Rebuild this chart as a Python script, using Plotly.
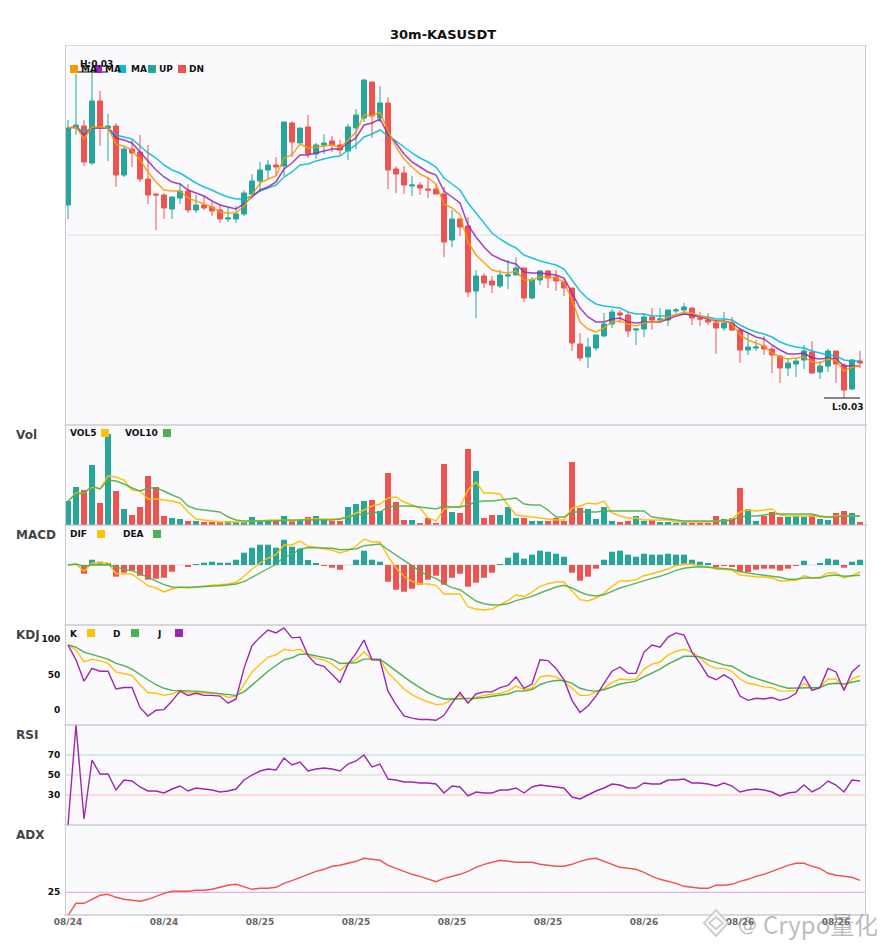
import plotly.graph_objects as go
from plotly.subplots import make_subplots
import numpy as np

# All prices are stored as offsets above 0.03 in units of 0.00001 USDT
PRICE_BASE = 0.03
PRICE_UNIT = 0.00001

open_ = [295,372,374,337,399,372,374,325,351,348, 321,306,305,291,302,309,290,295,293,290,
         281,281,286,306,319,330,335,334,377,357, 373,346,355,359,355,349,372,382,418,382,
         397,331,327,314,315,311,311,306,260,281, 274,209,224,219,214,224,225,232,202,220,
         229,223,218,212,156,143,152,164,176,187, 185,170,171,183,180,180,189,190,192,182,
         180,177,172,177,170,150,152,154,151,144, 132,136,140,148,128,134,149,135,111,139]
high = [380,426,380,429,409,386,377,354,360,365, 355,306,307,303,317,316,305,304,298,296,
        293,294,310,326,338,340,343,378,379,372, 385,357,366,364,360,376,391,421,418,414,
        403,334,334,324,318,323,316,313,290,281, 283,230,227,224,230,240,243,232,223,230,
        230,230,222,212,167,162,165,187,191,190, 188,171,187,192,192,190,192,197,192,188,
        187,180,188,183,172,167,160,164,154,145, 142,142,155,159,139,151,149,137,141,149]
low = [281,365,334,335,354,339,313,323,333,318, 296,270,281,281,296,287,287,290,284,277,
       278,277,284,304,308,321,324,324,343,357, 342,341,346,348,345,340,351,378,362,378,
       311,307,306,304,305,302,306,243,253,264, 203,182,212,207,212,211,225,198,201,215,
       212,209,204,149,139,132,149,163,172,177, 163,155,163,170,177,174,186,188,175,174,
       175,146,169,169,137,145,149,145,127,117, 124,123,131,126,121,128,117,102,110,132]
close = [372,375,338,399,373,374,325,351,347,321, 305,305,292,303,309,290,295,292,289,281,
         282,286,307,319,330,335,333,378,358,372, 346,355,357,355,350,373,385,420,384,397,
         330,326,315,315,312,310,306,258,281,273, 208,224,217,215,225,225,232,202,220,229,
         222,219,212,157,142,153,165,176,188,185, 169,171,183,180,181,190,190,193,182,181,
         178,172,177,170,150,153,153,151,145,132, 137,139,149,127,134,149,136,110,140,137]

ma_fast = [372,373,361,373,373,372,356,354,350,340, 328,318,310,309,309,302,299,296,293,288,
           287,287,294,305,317,321,324,342,345,356, 352,353,354,355,352,360,368,385,384,388,
           369,353,341,333,326,322,316,296,292,285, 258,245,237,230,228,227,229,220,220,223,
           223,222,218,200,178,171,168,172,178,179, 176,174,177,178,179,183,185,188,187,184,
           182,178,179,176,165,160,157,154,147,143, 141,142,143,138,137,141,140,129,133,134]
ma_mid = [372,373,365,372,372,372,362,360,357,348, 338,330,323,318,316,310,307,304,299,295,
          293,291,296,303,310,313,318,331,337,345, 345,347,349,351,351,357,362,375,377,381,
          366,357,346,338,333,328,325,309,303,297, 275,263,253,245,241,238,236,228,227,227,
          226,225,222,207,192,183,178,178,181,182, 178,177,178,178,178,181,184,186,185,183,
          181,179,179,177,171,167,163,161,155,150, 146,146,147,142,141,142,141,134,134,134]
ma_slow = [372,373,368,372,372,372,365,363,361,354, 347,342,335,330,327,322,317,313,310,306,
           303,301,301,304,309,312,315,323,328,335, 336,339,341,343,344,350,355,363,366,370,
           364,359,353,347,342,338,333,322,316,310, 297,287,277,267,261,256,252,245,242,239,
           237,235,231,220,209,201,196,194,193,192, 188,186,186,184,184,184,185,186,185,184,
           183,181,181,180,175,171,168,166,163,158, 155,153,152,149,147,145,144,140,139,139]

vol = [24,38,35,60,22,91,34,16,10,18, 49,38,9,7,6,4,4,3,3,3, 4,3,3,8,4,4,4,9,4,5,
       8,9,6,4,4,18,21,24,25,14, 52,23,5,5,2,7,2,61,13,12, 76,54,7,10,10,18,7,7,4,4,
       4,7,4,63,17,16,6,18,4,3, 4,9,4,5,3,3,2,3,2,2, 2,9,6,7,37,16,4,9,13,8,
       8,9,8,10,6,5,12,14,12,3]
vol5 = [24,32,32,38,36,49,48,45,35,34, 26,26,25,24,22,13,6,5,4,3, 3,3,3,4,4,5,5,5,4,5,
        6,6,6,6,6,8,12,15,19,21, 27,28,23,20,17,7,4,16,18,18, 35,43,32,32,31,20,10,9,8,7,
        6,5,5,17,19,22,21,24,12,9, 7,7,5,5,5,5,3,3,3,3, 3,4,4,6,13,15,14,15,16,10,
        9,9,9,9,8,8,9,9,9,9]
vol10 = [24,31,32,39,36,45,44,41,37,34, 37,37,34,30,27,19,16,15,14,13, 8,5,4,4,4,4,4,5,5,5,
         5,5,5,5,6,8,10,11,12,13, 18,19,19,19,18,17,16,19,18,18, 20,23,24,24,25,26,27,21,20,20,
         15,8,8,13,13,13,13,14,14,14, 14,14,14,8,7,6,5,4,4,4, 4,4,4,5,8,9,9,10,11,11,
         11,11,11,11,9,8,8,9,9,9]

macd_hist = [0,0,-8.7,5.3,3.3,2,-11.7,-7.7,-5.7,-10.7, -14.7,-13.7,-12.7,-6.7,0,-1.7,1,2.3,3.3,2.3,
             2.3,5.3,12.3,17.3,20.3,20.3,17.3,25.3,18.3,16.3, 5,1.3,-0.7,-2.7,-4.7,0,5.3,14.3,5.3,3.3,
             -16.7,-24.7,-26.7,-23.7,-19.7,-14.7,-10.7,-19.7,-12.7,-8.7, -21.7,-17.7,-12.7,-7.7,1,7.3,12.3,6.3,10.3,14.3,
             13.3,11.3,8.3,-7.7,-15.7,-11.7,-3.7,5.3,13.3,14.3, 10.3,8.3,11.3,10.3,10.3,11.3,10.3,10.3,5.3,3.3,
             1.3,-1.7,-0.7,-1.7,-6.7,-7,-4.7,-3.7,-3.7,-5.7, -3.7,-0.7,4.3,0,1.3,6.3,5.3,-2.7,3.3,5.3]
dif = [0,1,-6.3,2,2,2,-8.7,-9,-9,-14.7, -20.7,-23,-27,-24,-22.3,-23,-22,-20.7,-20.3,-19.7,
       -19,-17.3,-11.3,-4,2,7,10.3,20,20,24, 18.7,17.7,16,14.7,12,14.3,18.7,26,23,23,
       8.7,-3,-11.3,-16.3,-18.7,-19,-20.3,-29,-29,-29, -42,-44,-45,-44,-40,-35.7,-29.7,-31.7,-27,-21.3,
       -18.7,-17,-17,-26.3,-34.7,-36,-33,-28,-21.3,-16, -16,-14.7,-10.7,-8.7,-6.7,-4,-0.7,1,0.7,-1,
       -1.7,-4.3,-4.3,-5.3,-10,-11,-11.7,-12,-13,-16, -16,-15.3,-10.7,-12.7,-12.3,-8,-8,-13,-10.7,-7]
dea = [0,1,-1.3,0,0.3,0,-2.3,-3.7,-5.7,-8.7, -12.3,-15.7,-19.7,-22,-22.3,-22.3,-22,-21.7,-21,-20.7,
       -20,-19,-16.7,-12.3,-7.3,-3.3,0.7,8,10.3,16, 17.3,17.3,17.3,16.7,15.3,15.3,16,19.3,20,21,
       15.3,10.3,4.7,-0.7,-6.3,-10.7,-13.3,-18.7,-22.7,-24.7, -30.7,-36,-38.7,-40,-39.7,-38.7,-35.7,-33.7,-31.3,-28,
       -24.7,-22,-20.3,-23,-27,-30,-31,-29.7,-26.3,-23, -20.7,-18,-15.3,-13.3,-11.3,-8.7,-5.3,-3.3,-2.3,-1.7,
       -2.3,-3,-3.7,-4.3,-6.7,-8.3,-9.3,-10.3,-11,-12.3, -14.3,-14.3,-13,-13,-13,-10.7,-10,-11.3,-11,-10.3]

k_line = [92,85,68,72,70,66,54,52,49,36, 25,24,21,23,28,25,25,24,24,23, 18,20,36,54,64,75,78,86,84,86,
          78,73,71,65,56,66,71,82,71,71, 53,41,30,22,16,12,8,9,15,21, 12,18,21,22,24,27,34,29,31,47,
          49,47,40,31,21,21,26,31,39,44, 43,44,58,65,68,78,83,86,82,74, 64,59,59,55,44,38,36,33,32,27,
          27,28,38,31,32,44,44,31,44,49]
d_line = [92,89,82,79,75,72,66,63,58,50, 43,36,31,28,28,27,27,26,25,24, 23,21,26,35,45,55,63,71,74,79,
          79,77,75,72,66,66,67,72,72,72, 64,55,47,39,32,25,20,16,16,16, 16,17,18,20,21,23,27,27,29,36,
          40,42,42,38,31,28,27,29,33,37, 39,41,47,52,58,65,71,76,76,75, 71,67,64,62,55,49,45,41,38,34,
          31,31,32,32,32,37,38,37,39,42]
j_line = [92,71,41,59,55,55,30,32,32,4, -8,0,1,13,27,21,24,21,21,20, 10,16,59,91,103,113,109,116,102,103,
          77,65,62,51,39,65,80,99,71,71, 27,8,-8,-11,-13,-13,-14,-7,10,25, 10,23,26,26,32,35,47,31,37,71,
          70,59,43,14,-3,6,20,38,55,61, 52,52,82,92,89,103,109,106,82,66, 48,43,50,43,20,14,17,16,18,14,
          17,24,48,28,32,59,54,28,54,64]
rsi = [0,100,6,65,51,51,35,45,44,38, 34,34,32,36,39,34,37,36,35,33, 34,36,45,50,54,56,55,67,60,63,
       54,56,57,56,54,61,64,70,58,61, 46,45,43,43,42,42,41,32,39,38, 29,33,32,32,35,35,37,32,38,40,
       39,38,37,28,26,30,34,37,41,40, 37,37,42,41,41,45,45,46,42,42, 41,39,42,39,33,35,36,35,33,29,
       32,33,40,33,37,44,40,33,45,44]
adx = [13.5,19.5,19.5,21.5,23.5,24,22.5,21.5,21,20.5, 21.5,23,24.5,25.5,25.5,25.5,26,26,26.5,27.5,
       28.5,29,27.7,26.5,27,27,27.5,29.5,30.8,32.5, 34.2,35.5,36.5,38,38.5,39.5,40.5,42,41.5,41,
       38.5,37,35.5,34,33,31.7,30.3,32,33,34, 35.5,37.5,39,40,41,40.5,40,40,40,39,
       38.5,38,38,39,40.5,41.5,42,40.5,39,37.5, 37,36.5,35,33,31.5,30.5,29.5,28,27.5,27,
       27,28.5,28.5,29,30.5,31.5,33,34,35.5,37, 38.5,39.5,39.5,38,37,34.5,33.5,33,32.5,31]

tick_positions = [0, 12, 24, 36, 48, 60, 72, 84, 96]
tick_labels = ["08/24", "08/24", "08/25", "08/25", "08/25", "08/25", "08/26", "08/26", "08/26"]

UP = "#26a69a"
DN = "#ef5350"
ORANGE = "#ff9800"
PURPLE = "#9c27b0"
CYAN = "#00bcd4"
YELLOW = "#ffc107"
GREEN = "#4caf50"
BG = "#fafafd"
FONT = "DejaVu Sans"

# The browser keeps an 8px page margin around the figure
OX, OY = 8, 8
W, H = 869, 934
PL, PR, PT, PB = 65.0, 865.0, 45.0, 915.0


def price(a):
    return PRICE_BASE + np.array(a, dtype=float) * PRICE_UNIT


def X(px):
    return (px - PL) / (PR - PL)


def Y(py):
    return (PB - py) / (PB - PT)


x = np.arange(len(close))

fig = make_subplots(rows=6, cols=1, shared_xaxes=True, vertical_spacing=0,
                    row_heights=[380, 100, 100, 100, 100, 90])

fig.add_trace(go.Candlestick(x=x, open=price(open_), high=price(high), low=price(low), close=price(close),
                             increasing=dict(line=dict(color=UP, width=1), fillcolor=UP),
                             decreasing=dict(line=dict(color=DN, width=1), fillcolor=DN),
                             whiskerwidth=0, showlegend=False, hoverinfo="skip"), row=1, col=1)
for series, colr in ((ma_slow, CYAN), (ma_mid, PURPLE), (ma_fast, ORANGE)):
    fig.add_trace(go.Scatter(x=x, y=price(series), mode="lines", line=dict(color=colr, width=1.5),
                             opacity=0.88, showlegend=False, hoverinfo="skip"), row=1, col=1)

vol_colors = [UP if c >= o else DN for o, c in zip(open_, close)]
fig.add_trace(go.Bar(x=x, y=vol, marker=dict(color=vol_colors, line_width=0), showlegend=False,
                     hoverinfo="skip"), row=2, col=1)
fig.add_trace(go.Scatter(x=x, y=vol5, mode="lines", line=dict(color=YELLOW, width=1.4), showlegend=False,
                         hoverinfo="skip"), row=2, col=1)
fig.add_trace(go.Scatter(x=x, y=vol10, mode="lines", line=dict(color=GREEN, width=1.4), opacity=0.9,
                         showlegend=False, hoverinfo="skip"), row=2, col=1)

hist_colors = [UP if h >= 0 else DN for h in macd_hist]
fig.add_trace(go.Bar(x=x, y=macd_hist, marker=dict(color=hist_colors, line_width=0), showlegend=False,
                     hoverinfo="skip"), row=3, col=1)
fig.add_trace(go.Scatter(x=x, y=dif, mode="lines", line=dict(color=YELLOW, width=1.4), showlegend=False,
                         hoverinfo="skip"), row=3, col=1)
fig.add_trace(go.Scatter(x=x, y=dea, mode="lines", line=dict(color=GREEN, width=1.4), opacity=0.9,
                         showlegend=False, hoverinfo="skip"), row=3, col=1)

for series, colr in ((k_line, YELLOW), (d_line, GREEN), (j_line, PURPLE)):
    fig.add_trace(go.Scatter(x=x, y=series, mode="lines", line=dict(color=colr, width=1.4),
                             showlegend=False, hoverinfo="skip"), row=4, col=1)
fig.add_trace(go.Scatter(x=x, y=rsi, mode="lines", line=dict(color=PURPLE, width=1.4),
                         showlegend=False, hoverinfo="skip"), row=5, col=1)
fig.add_trace(go.Scatter(x=x, y=adx, mode="lines", line=dict(color=DN, width=1.4),
                         showlegend=False, hoverinfo="skip"), row=6, col=1)

xrange_ = [-0.375, 99.625]
for r in range(1, 7):
    fig.update_xaxes(row=r, col=1, range=xrange_, showgrid=False, zeroline=False, showline=False,
                     rangeslider_visible=False, ticks="", showticklabels=False)
fig.update_xaxes(row=6, col=1, showticklabels=True, tickmode="array", tickvals=tick_positions,
                 ticktext=tick_labels, ticks="",
                 tickfont=dict(family=FONT, size=9, color="#666666", weight="bold"))

axis_cfg = [
    (1, [PRICE_BASE + 75 * PRICE_UNIT, PRICE_BASE + 455 * PRICE_UNIT], [], []),
    (2, [0, 100], [], []),
    (3, [-60, 40], [], []),
    (4, [-20.7, 120.1], [0, 50, 100], ["0", "50", "100"]),
    (5, [0, 100], [30, 50, 70], ["30", "50", "70"]),
    (6, [13.65, 58.65], [25], ["25"]),
]
for r, rng, tv, tt in axis_cfg:
    fig.update_yaxes(row=r, col=1, range=rng, showgrid=False, zeroline=False, showline=False,
                     tickmode="array", tickvals=tv, ticktext=tt, ticks="outside", ticklen=2,
                     tickcolor="rgba(0,0,0,0)",
                     tickfont=dict(family=FONT, size=9, color="#111111", weight="bold"))

# Reference lines
TEAL_REF = "#a8dcd8"
GREY_REF = "#d4d4d8"
RED_REF = "#ffb8b4"
PURPLE_REF = "#e0b4ea"
ref_lines = [(1, PRICE_BASE + 265 * PRICE_UNIT, "#e0e0e2"), (3, 0, "#dddddf"),
             (4, 100, TEAL_REF), (4, 50, GREY_REF), (4, 0, RED_REF),
             (5, 70, TEAL_REF), (5, 50, GREY_REF), (5, 30, RED_REF),
             (6, 25, PURPLE_REF)]
for r, val, colr in ref_lines:
    fig.add_hline(y=val, row=r, col=1, line=dict(color=colr, width=1.2), layer="below")


def px_line(x0, y0, x1, y1, colr, w=1.0, layer="above"):
    fig.add_shape(type="line", xref="paper", yref="paper", x0=X(x0), x1=X(x1), y0=Y(y0), y1=Y(y1),
                  line=dict(color=colr, width=w), layer=layer)


def px_rect(x0, y0, x1, y1, colr):
    fig.add_shape(type="rect", xref="paper", yref="paper", x0=X(x0), x1=X(x1), y0=Y(y0), y1=Y(y1),
                  line_width=0, fillcolor=colr, layer="above")


def label(px, py, text, size=9, colr="#111111", anchor="left", bold=True, family=FONT):
    fig.add_annotation(xref="paper", yref="paper", x=X(px), y=Y(py), text=f"<b>{text}</b>" if bold else text,
                       showarrow=False, xanchor=anchor, yanchor="middle", align=anchor,
                       font=dict(family=family, size=size, color=colr), borderpad=0, borderwidth=0)


# Panel frames
FL, FR = PL + 0.5, PR + 0.5
px_line(FL, PT + 0.5, FR, PT + 0.5, "#d8d8de", 1)
for yy in (425, 525, 625, 725, 825, 915):
    px_line(FL - 1, yy, FR + 1.5, yy, "#b4b4ba", 1.2)
px_line(FL, PT, FL, PB, "#cbcbd3", 1)
px_line(FR, PT, FR, PB, "#cbcbd3", 1)

# Panel titles
fig.add_annotation(xref="paper", yref="paper", x=X(443), y=Y(34.5), text="<b>30m-KASUSDT</b>", showarrow=False,
                   xanchor="center", yanchor="middle", font=dict(family=FONT, size=13, color="#111111"))
for yy, t in ((435, "Vol"), (535, "MACD"), (635, "KDJ"), (735, "RSI"), (835, "ADX")):
    label(16, yy, t, size=12, colr="#444444")

# Extreme labels
label(96, 64.5, "H:0.03", anchor="center")
px_line(78, 72, 108, 72, "#111111", 1)
label(847.5, 407, "L:0.03", anchor="center")
px_line(824, 398, 860, 398, "#111111", 1)

# Custom legends
for x0, colr in ((70, ORANGE), (94, PURPLE), (118, CYAN), (148, UP), (178, DN)):
    px_rect(x0, 65, x0 + 8, 73, colr)
for x0, t in ((81, "MA"), (105, "MA"), (131, "MA"), (159, "UP"), (189, "DN")):
    label(x0, 69, t)
for txt_x, t, sq_x in ((70, "VOL5", 101), (125, "VOL10", 163)):
    label(txt_x, 433.5, t)
    px_rect(sq_x, 429, sq_x + 8, 437, YELLOW if t == "VOL5" else GREEN)
for txt_x, t, sq_x, colr in ((70, "DIF", 97, YELLOW), (123, "DEA", 153, GREEN)):
    label(txt_x, 533.5, t)
    px_rect(sq_x, 530, sq_x + 8, 538, colr)
for txt_x, t, sq_x, colr in ((70, "K", 87, YELLOW), (113, "D", 131, GREEN), (157, "J", 175, PURPLE)):
    label(txt_x, 633.5, t)
    px_rect(sq_x, 629, sq_x + 8, 637, colr)

# Watermark
wm = "rgba(120,120,125,0.5)"
def poly(points):
    return "M " + " L ".join(f"{X(a)} {Y(b)}" for a, b in points) + " Z"
fig.add_shape(type="path", xref="paper", yref="paper", layer="above",
              path=poly([(704, 923), (716, 910), (728, 923), (716, 936)]),
              line=dict(color="rgba(200,200,205,0.9)", width=2), fillcolor="rgba(255,255,255,0.7)")
fig.add_shape(type="path", xref="paper", yref="paper", layer="above",
              path=poly([(709, 923), (716, 917), (723, 923), (716, 929)]),
              line=dict(color="rgba(200,200,205,0.9)", width=2), fillcolor="rgba(255,255,255,0)")
label(738, 924, "@", size=19, colr=wm, bold=False)
label(763, 924, "Crypo量化", size=24, colr=wm, bold=False, family="Noto Sans CJK SC, " + FONT)

fig.update_layout(width=W, height=H, bargap=0.25, boxgap=0.2, boxgroupgap=0.22, plot_bgcolor=BG,
                  paper_bgcolor="white", showlegend=False,
                  margin=dict(l=PL - OX, r=W + OX - PR, t=PT - OY, b=H + OY - PB, autoexpand=False),
                  font=dict(family=FONT), hovermode=False)

fig.write_html("out.html")
